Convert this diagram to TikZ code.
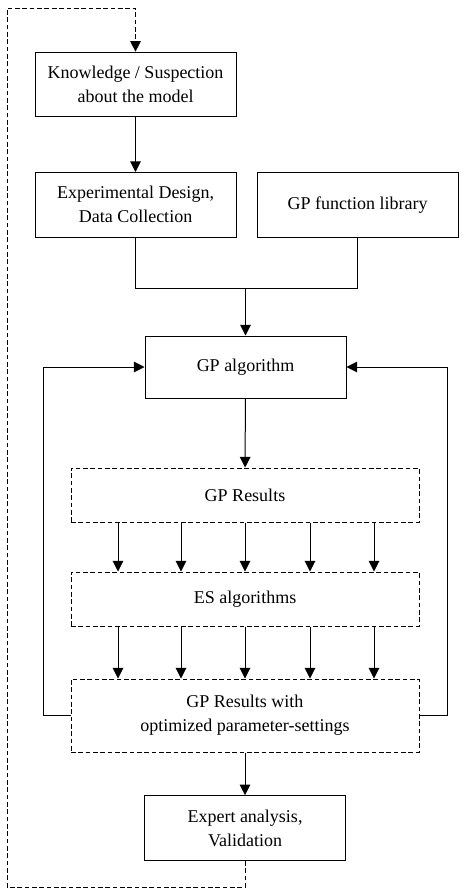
\documentclass[tikz,border=0pt]{standalone}
\usepackage{fontspec}
\setmainfont{Liberation Serif}
\usepackage{tikz}
\usetikzlibrary{arrows.meta, positioning}

\begin{document}
\begin{tikzpicture}[
    x=0.75pt, y=-0.75pt,
    line width=0.75pt,
    >={Triangle[length=8pt,width=8pt]},
    font=\fontsize{13.5}{18}\selectfont,
    box/.style={rectangle, draw, minimum width=150.75pt, minimum height=48.5pt, align=center, inner sep=0pt},
    dbox/.style={rectangle, draw, dash pattern=on 3.5pt off 2pt, minimum width=261pt, minimum height=40.5pt, align=center, inner sep=0pt},
    loop/.style={dash pattern=on 3.5pt off 2pt}
]
\useasboundingbox (0,0) rectangle (464,896);

\node[box] (know) at (135.5,84.5) {Knowledge / Suspection\\about the model};
\node[box, below=41pt of know] (design) {Experimental Design,\\Data Collection};
\node[box, right=15pt of design] (lib) {GP function library};
\node[box, minimum height=46.5pt] (gp) at (245.5,367) {GP algorithm};
\node[dbox] (res) at (245,495) {GP Results};
\node[dbox] (es) at (245,599) {ES algorithms};
\node[dbox, minimum height=54.75pt] (opt) at (245,715.5) {GP Results with\\optimized parameter-settings};
\node[box, below=32pt of opt] (expert) {Expert analysis,\\Validation};
\coordinate (join) at (245.5,288);

\draw[->] (know) -- (design);
\draw (design.south) |- (join);
\draw (lib.south) |- (join);
\draw[->] (join) -- (gp.north);
\draw[->] (gp) -- (res);
\foreach \x in {118,181,245,310,374} {
    \draw[->] (res.south -| \x,0) -- (es.north -| \x,0);
    \draw[->] (es.south -| \x,0) -- (opt.north -| \x,0);
}
\draw[->] (opt) -- (expert);

% feedback to the GP run
\draw[->] (opt.west) -- ++(-27,0) |- (gp.west);
\draw[->] (opt.east) -- ++(28,0) |- (gp.east);

% back to the model
\draw[loop, ->] (expert.south) |- (7,887) -- (7,8) -| (know.north);
\end{tikzpicture}
\end{document}
